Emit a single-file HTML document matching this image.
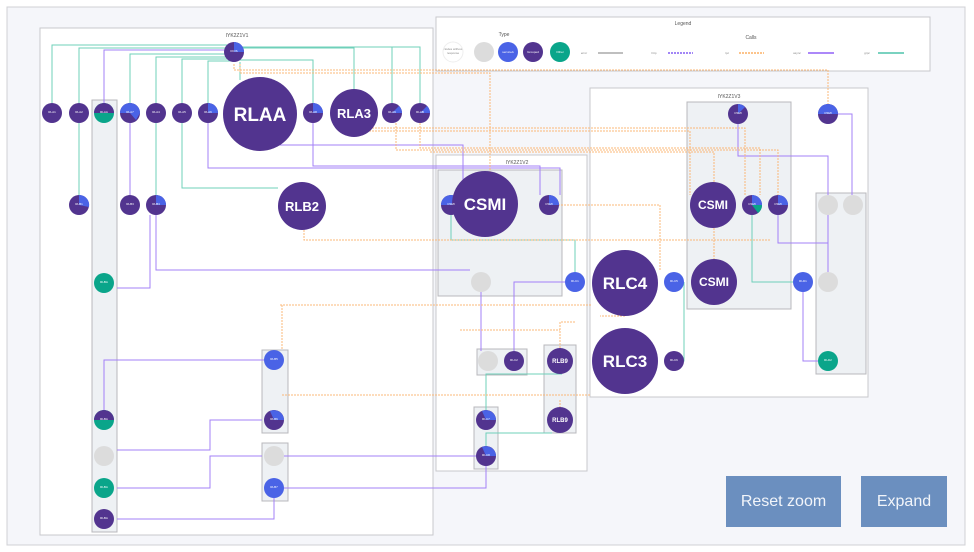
<!DOCTYPE html>
<html><head><meta charset="utf-8"><style>
html,body{margin:0;padding:0;background:#fff}
body{width:974px;height:552px;overflow:hidden;font-family:"Liberation Sans",sans-serif}
.btn{position:absolute;background:#6b8fbf;color:#f2f5fa;font-size:16px;display:flex;align-items:center;justify-content:center}
</style></head><body>
<svg width="974" height="552" viewBox="0 0 974 552" style="position:absolute;left:0;top:0">
<rect x="0" y="0" width="974" height="552" fill="#fff"/>
<rect x="7" y="7" width="958" height="538" fill="#f5f6fa" stroke="#d0d0d4"/>
<rect x="40" y="28" width="393" height="507" fill="#fff" stroke="#c8c8cc"/>
<rect x="92" y="100" width="25" height="432" fill="#eef1f4" stroke="#b8b8bc"/>
<rect x="262" y="350" width="26" height="83" fill="#eef1f4" stroke="#b8b8bc"/>
<rect x="262" y="443" width="26" height="58" fill="#eef1f4" stroke="#b8b8bc"/>
<rect x="436" y="155" width="151" height="316" fill="#fff" stroke="#c8c8cc"/>
<rect x="438" y="170" width="124" height="126" fill="#eef1f4" stroke="#b8b8bc"/>
<rect x="477" y="349" width="50" height="26" fill="#eef1f4" stroke="#b8b8bc"/>
<rect x="544" y="345" width="32" height="88" fill="#eef1f4" stroke="#b8b8bc"/>
<rect x="474" y="407" width="24" height="62" fill="#eef1f4" stroke="#b8b8bc"/>
<rect x="590" y="88" width="278" height="309" fill="#fff" stroke="#c8c8cc"/>
<rect x="687" y="102" width="104" height="207" fill="#eef1f4" stroke="#b8b8bc"/>
<rect x="816" y="193" width="50" height="181" fill="#eef1f4" stroke="#b8b8bc"/>
<rect x="436" y="17" width="494" height="54" fill="#fff" stroke="#c8c8cc"/>
<g font-size="5" fill="#555" text-anchor="middle">
<text x="237" y="37">IYK2Z1V1</text><text x="517" y="164">IYK2Z1V2</text><text x="729" y="98">IYK2Z1V3</text>
<text x="683" y="25">Legend</text><text x="504" y="36">Type</text><text x="751" y="39">Calls</text>
</g>
<g font-size="3" fill="#888" text-anchor="middle">
<text x="453" y="50">Nodes without</text><text x="453" y="54">response</text>
<text x="484" y="53">no response</text>
<text x="584" y="54">error</text><text x="654" y="54">http</text><text x="727" y="54">rpc</text><text x="797" y="54">async</text><text x="867" y="54">grpc</text>
</g>
<g font-size="3" fill="#fff" text-anchor="middle">
<text x="508" y="53">serviceA</text><text x="533" y="53">Grouped</text><text x="560" y="53">Other</text>
</g>
<circle cx="453" cy="52" r="10" fill="none" stroke="#eee"/>
<circle cx="484" cy="52" r="10" fill="#dcdcdc"/>
<circle cx="508" cy="52" r="10" fill="#4a63e6"/>
<circle cx="533" cy="52" r="10" fill="#52348f"/>
<circle cx="560" cy="52" r="10" fill="#0aa58a"/>
<g font-size="3" fill="#fff" text-anchor="middle">
<text x="508" y="53">serviceA</text><text x="533" y="53">Grouped</text><text x="560" y="53">Other</text>
</g>
<g stroke-width="1.2">
<line x1="598" y1="53" x2="623" y2="53" stroke="#999"/>
<line x1="668" y1="53" x2="693" y2="53" stroke="#6a3ff0" stroke-dasharray="2 1"/>
<line x1="739" y1="53" x2="764" y2="53" stroke="#fba048" stroke-dasharray="2 1"/>
<line x1="808" y1="53" x2="834" y2="53" stroke="#7a40f5"/>
<line x1="878" y1="53" x2="904" y2="53" stroke="#2bb89a"/>
</g>
<g fill="none" stroke-width="1">
<g stroke="#6fd0ba">
<path d="M234 45H52V103M234 48H79V103M234 54H130V103M234 57H156V103M234 59H182V103M234 61H208V103M240 62V80M234 60H313V103M234 48H354V89M234 47H392V103M234 47H420V103"/>
<path d="M79 123V195M156 123V195M182 123V188H278"/>
<path d="M451 215V240H575V272M752 215V282H793M664 361H684V282"/>
<path d="M562 374H486V410M552 433H486V446"/>
</g>
<g stroke="#a380f7">
<path d="M234 50H104V103M130 123V195M208 123V168H560V195M313 123V166H540V195M260 145H463V195M156 215V270H470M150 215V288H117"/>
<path d="M264 360H104V410M262 420H210V450H117M262 456H210V488H117M274 498V519H117M476 456H282M486 466V488H282"/>
<path d="M481 292V351M572 282H514V351M738 124V156H828V272M838 114H852V195M778 215V243H828V272M803 292V361H818"/>
</g>
<g stroke="#fbb878" stroke-dasharray="2 1">
<path d="M234 64V70H828V104M240 64V73H490V172M354 131H690V195M430 152H714V265M360 128H745V195M396 123V150H778V195M420 123V148H760V195M304 230V240H770M555 205H660V270M280 305H592M282 305V350M575 322H560V348M460 330H560M282 395H590M560 400V410M625 316H600"/>
</g>
</g>
<g>
<circle cx="234" cy="52" r="10" fill="#52348f"/><path d="M234 52L234 42A10 10 0 0 1 244 52Z" fill="#4a63e6"/>
<circle cx="52" cy="113" r="10" fill="#52348f"/>
<circle cx="79" cy="113" r="10" fill="#52348f"/>
<circle cx="104" cy="113" r="10" fill="#0aa58a"/><path d="M94 113A10 10 0 0 1 114 113Z" fill="#52348f"/>
<circle cx="130" cy="113" r="10" fill="#52348f"/><path d="M130 113L120 113A10 10 0 0 1 140 113L136 120Z" fill="#4a63e6"/>
<circle cx="156" cy="113" r="10" fill="#52348f"/>
<circle cx="182" cy="113" r="10" fill="#52348f"/>
<circle cx="208" cy="113" r="10" fill="#52348f"/><path d="M208 113L208 103A10 10 0 0 1 218 113Z" fill="#4a63e6"/>
<circle cx="260" cy="114" r="37" fill="#52348f"/>
<circle cx="313" cy="113" r="10" fill="#52348f"/><path d="M313 113L313 103A10 10 0 0 1 323 113Z" fill="#4a63e6"/>
<circle cx="354" cy="113" r="24" fill="#52348f"/>
<circle cx="392" cy="113" r="10" fill="#52348f"/><path d="M392 113L399 106A10 10 0 0 1 402 113Z" fill="#4a63e6"/>
<circle cx="420" cy="113" r="10" fill="#52348f"/><path d="M420 113L427 106A10 10 0 0 1 430 113Z" fill="#4a63e6"/>
<circle cx="79" cy="205" r="10" fill="#52348f"/><path d="M79 205L79 195A10 10 0 0 1 89 207Z" fill="#4a63e6"/>
<circle cx="130" cy="205" r="10" fill="#52348f"/>
<circle cx="156" cy="205" r="10" fill="#52348f"/><path d="M156 205L156 195A10 10 0 0 1 166 205Z" fill="#4a63e6"/>
<circle cx="302" cy="206" r="24" fill="#52348f"/>
<circle cx="104" cy="283" r="10" fill="#0aa58a"/>
<circle cx="104" cy="420" r="10" fill="#0aa58a"/><path d="M94 420A10 10 0 0 1 114 420Z" fill="#52348f"/>
<circle cx="104" cy="456" r="10" fill="#dcdcdc"/>
<circle cx="104" cy="488" r="10" fill="#0aa58a"/>
<circle cx="104" cy="519" r="10" fill="#52348f"/>
<circle cx="274" cy="360" r="10" fill="#4a63e6"/>
<circle cx="274" cy="420" r="10" fill="#52348f"/><path d="M274 420L270 411A10 10 0 0 1 284 420Z" fill="#4a63e6"/>
<circle cx="274" cy="456" r="10" fill="#dcdcdc"/>
<circle cx="274" cy="488" r="10" fill="#4a63e6"/>
<circle cx="451" cy="205" r="10" fill="#52348f"/><path d="M441 205A10 10 0 0 1 461 205Z" fill="#4a63e6"/>
<circle cx="485" cy="204" r="33" fill="#52348f"/>
<circle cx="549" cy="205" r="10" fill="#52348f"/><path d="M549 205L549 195A10 10 0 0 1 559 205Z" fill="#4a63e6"/>
<circle cx="481" cy="282" r="10" fill="#dcdcdc"/>
<circle cx="575" cy="282" r="10" fill="#4a63e6"/>
<circle cx="625" cy="283" r="33" fill="#52348f"/>
<circle cx="625" cy="361" r="33" fill="#52348f"/>
<circle cx="674" cy="282" r="10" fill="#4a63e6"/>
<circle cx="674" cy="361" r="10" fill="#52348f"/>
<circle cx="488" cy="361" r="10" fill="#dcdcdc"/>
<circle cx="514" cy="361" r="10" fill="#52348f"/>
<circle cx="560" cy="361" r="13" fill="#52348f"/>
<circle cx="560" cy="420" r="13" fill="#52348f"/>
<circle cx="486" cy="420" r="10" fill="#52348f"/><path d="M486 420L482 411A10 10 0 0 1 496 420Z" fill="#4a63e6"/>
<circle cx="486" cy="456" r="10" fill="#52348f"/><path d="M486 456L482 447A10 10 0 0 1 496 456Z" fill="#4a63e6"/>
<circle cx="738" cy="114" r="10" fill="#52348f"/><path d="M738 114L738 104A10 10 0 0 1 745 107Z" fill="#4a63e6"/>
<circle cx="828" cy="114" r="10" fill="#52348f"/><path d="M818 114A10 10 0 0 1 838 114Z" fill="#4a63e6"/>
<circle cx="713" cy="205" r="23" fill="#52348f"/>
<circle cx="752" cy="205" r="10" fill="#52348f"/><path d="M752 205L752 195A10 10 0 0 1 762 205Z" fill="#4a63e6"/><path d="M752 205L762 205A10 10 0 0 1 758 213Z" fill="#0aa58a"/>
<circle cx="778" cy="205" r="10" fill="#52348f"/><path d="M778 205L778 195A10 10 0 0 1 788 205Z" fill="#4a63e6"/>
<circle cx="714" cy="282" r="23" fill="#52348f"/>
<circle cx="803" cy="282" r="10" fill="#4a63e6"/>
<circle cx="828" cy="205" r="10" fill="#dcdcdc"/>
<circle cx="853" cy="205" r="10" fill="#dcdcdc"/>
<circle cx="828" cy="282" r="10" fill="#dcdcdc"/>
<circle cx="828" cy="361" r="10" fill="#0aa58a"/>
</g>
<g fill="#fff" font-size="3" text-anchor="middle">
<text x="234" y="52">IKOS</text><text x="52" y="113">RLA1</text><text x="79" y="113">RLA2</text><text x="104" y="113">RLAA</text><text x="130" y="113">RLA7</text><text x="156" y="113">RLA4</text><text x="182" y="113">RLA5</text><text x="208" y="113">RLA6</text><text x="313" y="113">RLA8</text><text x="392" y="113">RLA9</text><text x="420" y="113">RLAB</text>
<text x="79" y="205">RLB1</text><text x="130" y="205">RLB3</text><text x="156" y="205">RLB4</text><text x="104" y="283">RLBA</text><text x="104" y="420">RLBA</text><text x="104" y="488">RLBA</text><text x="104" y="519">RLBA</text>
<text x="274" y="360">RLB5</text><text x="274" y="420">RLB6</text><text x="274" y="488">RLB7</text><text x="451" y="205">CSMI</text><text x="549" y="205">CSMI</text><text x="575" y="282">RLC1</text><text x="674" y="282">RLC5</text><text x="674" y="361">RLC6</text><text x="514" y="361">RLC2</text><text x="486" y="420">RLC7</text><text x="486" y="456">RLC8</text>
<text x="738" y="114">CSMI</text><text x="828" y="114">CSMI</text><text x="752" y="205">CSMI</text><text x="778" y="205">CSMI</text><text x="803" y="282">RLD1</text><text x="828" y="361">RLD2</text>
</g>
<g fill="#fff" font-weight="bold" text-anchor="middle">
<text x="260" y="121" font-size="19">RLAA</text>
<text x="354" y="118" font-size="13">RLA3</text>
<text x="302" y="211" font-size="13">RLB2</text>
<text x="485" y="210" font-size="17">CSMI</text>
<text x="625" y="289" font-size="17">RLC4</text>
<text x="625" y="367" font-size="17">RLC3</text>
<text x="713" y="209" font-size="12">CSMI</text>
<text x="714" y="286" font-size="12">CSMI</text>
<text x="560" y="363" font-size="6">RLB9</text>
<text x="560" y="422" font-size="6">RLB9</text>
</g>
</svg>
<div class="btn" style="left:726px;top:476px;width:115px;height:51px">Reset zoom</div>
<div class="btn" style="left:861px;top:476px;width:86px;height:51px">Expand</div>
</body></html>
